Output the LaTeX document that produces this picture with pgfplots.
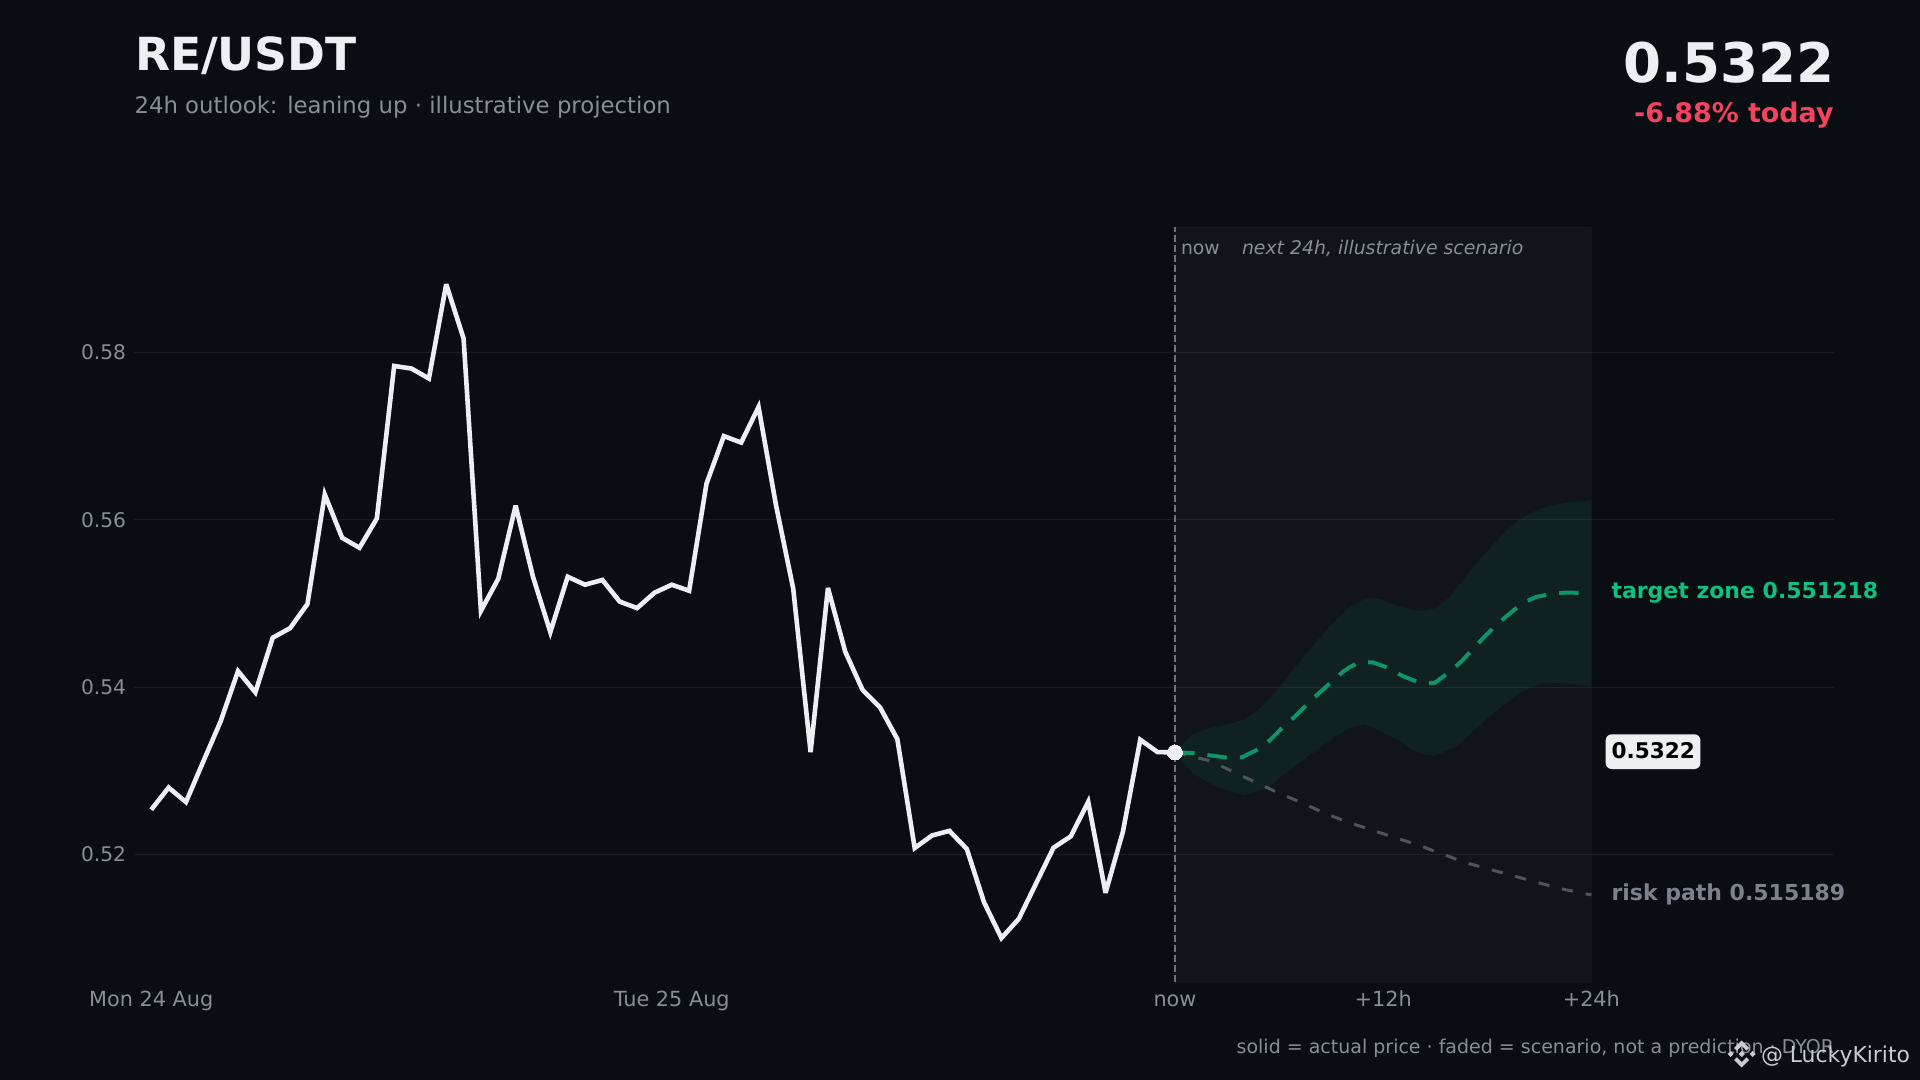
\documentclass[border=0pt]{standalone}
\usepackage{pgfplots}
\pgfplotsset{compat=1.18}
\usepackage{fontspec}
\setmainfont{DejaVu Sans}
\definecolor{bg}{HTML}{0A0E12}
\definecolor{gridc}{HTML}{181D22}
\definecolor{txt}{HTML}{878E98}
\definecolor{mainl}{HTML}{EDEFF3}
\definecolor{greenl}{HTML}{0E9466}
\definecolor{greent}{HTML}{10C080}
\definecolor{band}{HTML}{10B981}
\definecolor{riskl}{HTML}{505459}
\definecolor{riskt}{HTML}{7C828C}
\definecolor{redt}{HTML}{F4435F}
\definecolor{nowl}{HTML}{6E737B}
\definecolor{wm}{HTML}{C8CBCF}
\newcommand\fs[1]{\fontsize{#1}{#1}\selectfont}
\begin{document}
\begin{tikzpicture}
\begin{scope}[x=0.5pt,y=-0.5pt]
\path[use as bounding box,fill=bg] (0,0) rectangle (1920,1080);
\end{scope}
\begin{axis}[
  at={(67pt,-491.15pt)},anchor=south west,
  scale only axis,width=850pt,height=377.4pt,
  xmin=-0.995,xmax=96.985,ymin=0.50474,ymax=0.5949,
  clip=false,
  axis line style={draw=none},
  tick style={draw=none},major tick length=0pt,
  ymajorgrids,
  grid style={draw=gridc,line width=0.5pt},
  ytick={0.52,0.54,0.56,0.58},
  yticklabel style={/pgf/number format/assume math mode=true,/pgf/number format/fixed,/pgf/number format/precision=2,/pgf/number format/fixed zerofill,font=\fs{10.1},text=txt,inner sep=0pt,anchor=east,xshift=-3.75pt},
  xtick={0,30,59,71,83},
  xticklabels={Mon 24 Aug,Tue 25 Aug,now,+12h,+24h},
  xticklabel style={font=\fs{10.4},text=txt,inner sep=0pt,anchor=base,yshift=-12pt},
]
% forecast span
\addplot[fill=white,fill opacity=0.03,draw=white,draw opacity=0.03,line width=0.5pt] coordinates {(59,0.50474)(83,0.50474)(83,0.5949)(59,0.5949)} -- cycle;
% band
\addplot[fill=band,fill opacity=0.08,draw=none] coordinates {
(59,0.5322)(59.96,0.53435)(61.12,0.53519)(62.07,0.53555)(63.03,0.53614)(64.0,0.53758)(64.95,0.53976)(66.49,0.54382)(67.83,0.54701)(69.09,0.54959)(70.05,0.55066)(70.82,0.55051)(71.78,0.54971)(72.94,0.54907)(73.99,0.5494)(74.85,0.55078)(75.82,0.55337)(76.97,0.55616)(78.12,0.55875)(79.08,0.56026)(80.04,0.56134)(81.0,0.56185)(83,0.56233)
(83,0.54012)(81.2,0.54051)(79.99,0.54044)(78.8,0.53925)(76.99,0.53626)(75.18,0.53287)(73.97,0.5318)(73.07,0.53208)(71.86,0.53367)(71.11,0.53447)(69.96,0.53558)(68.99,0.53507)(67.65,0.53319)(66.11,0.53089)(64.19,0.52782)(62.94,0.5271)(61.31,0.52818)(60.05,0.5297)} -- cycle;
% now line
\addplot[draw=nowl,line width=0.85pt,dash pattern=on 3.5pt off 1.5pt] coordinates {(59,0.50474)(59,0.5949)};
% risk path
\addplot[draw=riskl,line width=1.5pt,dash pattern=on 5.6pt off 6.5pt] coordinates {
(59,0.5322)(61.02,0.5312)(62.36,0.52989)(63.71,0.52857)(64.95,0.52738)(66.3,0.52619)(67.65,0.52492)(68.95,0.52388)(70.34,0.52293)(71.72,0.52201)(73.06,0.5211)(74.41,0.52006)(75.77,0.51902)(77.16,0.51823)(78.56,0.51743)(79.94,0.51663)(81.33,0.51588)(82.74,0.51528)(83,0.51519)};
% target path
\addplot[draw=greenl,line width=2pt,dash pattern=on 9.8pt off 6.5pt] coordinates {
(59,0.5322)(60.15,0.53212)(60.9,0.53188)(62.05,0.53156)(62.86,0.53161)(63.9,0.53268)(64.48,0.53367)(65.28,0.53534)(65.86,0.53638)(66.67,0.53805)(67.24,0.53916)(68.09,0.54075)(68.68,0.54183)(69.09,0.54242)(69.66,0.54299)(70.41,0.54295)(71.1,0.54245)(71.49,0.54203)(72.14,0.54131)(73.12,0.54051)(73.98,0.54051)(74.95,0.54203)(75.52,0.5431)(76.29,0.54481)(76.8,0.54593)(77.61,0.54761)(78.19,0.5486)(79.05,0.55007)(79.84,0.55078)(80.9,0.55122)(81.65,0.5513)(83,0.5512)};
% price
\addplot[draw=mainl,line width=2.3pt,line join=miter,miter limit=4] coordinates {
(0,0.52536)(1,0.5280)(2,0.52627)(3,0.53112)(4,0.53592)(5,0.54191)(6,0.53937)(7,0.5459)(8,0.54704)(9,0.54992)(10,0.56302)(11,0.55784)(12,0.55664)(13,0.56014)(14,0.57836)(15,0.57805)(16,0.57686)(17,0.58812)(18,0.58164)(19,0.54911)(20,0.55294)(21,0.56168)(22,0.55318)(23,0.54657)(24,0.55318)(25,0.55223)(26,0.5528)(27,0.55021)(28,0.54944)(29,0.55127)(30,0.55223)(31,0.55151)(32,0.5643)(33,0.56998)(34,0.56921)(35,0.57346)(36,0.5618)(37,0.55175)(38,0.53224)(39,0.55184)(40,0.54421)(41,0.53964)(42,0.53759)(43,0.53379)(44,0.52078)(45,0.52228)(46,0.52283)(47,0.52068)(48,0.51428)(49,0.51003)(50,0.51232)(51,0.51657)(52,0.52081)(53,0.52218)(54,0.5263)(55,0.51543)(56,0.52273)(57,0.53371)(58,0.53224)(59,0.5322)};
\addplot[only marks,mark=*,mark size=3.75pt,mark options={fill=mainl,draw=mainl,line width=0pt}] coordinates {(59,0.5322)};
\end{axis}
\begin{scope}[x=0.5pt,y=-0.5pt,every node/.style={inner sep=0pt,outer sep=0pt}]
\node[anchor=base west,text=mainl] at (135,71) {\fs{22.8}\bfseries RE/USDT};
\node[anchor=base west,text=txt] at (134.5,114) {\fs{11.4}24h outlook: leaning up · illustrative projection};
\node[anchor=base east,text=mainl] at (1834,82.5) {\fs{27.3}\bfseries 0.5322};
\node[anchor=base east,text=redt] at (1833.5,122.5) {\fs{13.45}\bfseries -6.88\% today};
\node[anchor=base west,text=txt] at (1181,255) {\fs{9.4}now};
\node[anchor=base west,text=txt] at (1242,255) {\fs{9.43}\itshape next 24h, illustrative scenario};
\node[anchor=base west,text=greent] at (1611.5,598.7) {\fs{11}\bfseries target zone 0.551218};
\node[anchor=base west,text=riskt] at (1611.5,900) {\fs{11}\bfseries risk path 0.515189};
\fill[mainl,rounded corners=3pt] (1605.7,734.3) rectangle (1700.4,769);
\node[anchor=base west,text=black] at (1611.5,758.3) {\fs{10.8}\bfseries 0.5322};
\node[anchor=base east,text=txt] at (1834,1053.7) {\fs{9.5}solid = actual price · faded = scenario, not a prediction · DYOR};
% watermark
\node[anchor=base west,text=wm] at (1761,1062.5) {\fs{10.95}@ LuckyKirito};
\begin{scope}[shift={(1741.7,1054)},wm]
\fill (0,-3.2)--(3.2,0)--(0,3.2)--(-3.2,0)--cycle;
\fill (-11,-3)--(-8,0)--(-11,3)--(-14,0)--cycle;
\fill (11,-3)--(14,0)--(11,3)--(8,0)--cycle;
\fill (0,-13.5)--(7.5,-6)--(4.8,-3.3)--(0,-8.2)--(-4.8,-3.3)--(-7.5,-6)--cycle;
\fill (0,13.5)--(7.5,6)--(4.8,3.3)--(0,8.2)--(-4.8,3.3)--(-7.5,6)--cycle;
\end{scope}
\end{scope}
\end{tikzpicture}
\end{document}
